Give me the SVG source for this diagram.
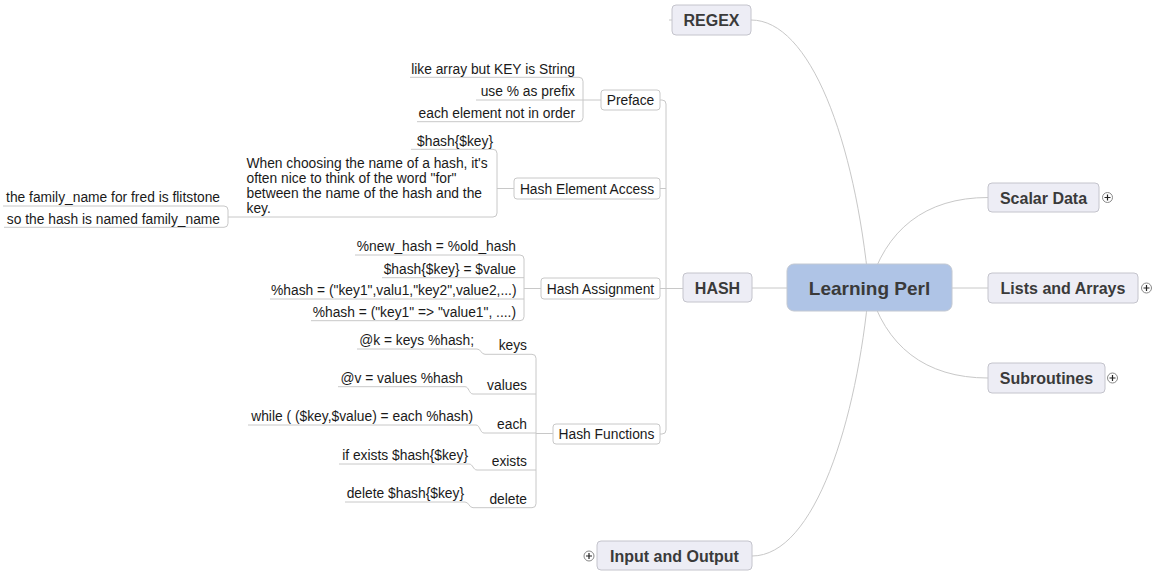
<svg xmlns="http://www.w3.org/2000/svg" width="1157" height="575" viewBox="0 0 1157 575">
<style>
.ln{fill:none;stroke:#c8c8c8;stroke-width:1}
.main rect{fill:#ededf5;stroke:#c4c4cc;stroke-width:1}
.main text{font-family:"Liberation Sans",Arial,sans-serif;font-size:16px;font-weight:bold;fill:#3a3a3a;text-anchor:middle}
.central rect{fill:#afc4e6;stroke:#c2c8d2;stroke-width:1}
.central text{font-family:"Liberation Sans",Arial,sans-serif;font-size:19px;font-weight:bold;fill:#3a3a3a;text-anchor:middle}
.sub rect{fill:#ffffff;stroke:#c8c8c8;stroke-width:1}
.sub text{font-family:"Liberation Sans",Arial,sans-serif;font-size:13.8px;fill:#1a1a1a;text-anchor:middle}
.leaf text{font-family:"Liberation Sans",Arial,sans-serif;font-size:13.8px;fill:#1a1a1a;text-anchor:end}
.plus circle{fill:#fff;stroke:#888;stroke-width:1}
.plus path{stroke:#222;stroke-width:1.2;fill:none}
</style>
<defs>
<g id="plusIcon" class="plus"><circle cx="0" cy="0" r="5"/><path d="M-3 0H3M0 -3V3"/></g>
</defs>
<g id="connectors">
<path class="ln" d="M751 20 C810 20 855 140 869 288"/>
<path class="ln" d="M988 197.5 C925 197.5 885 230 869 288"/>
<path class="ln" d="M952 288 H988"/>
<path class="ln" d="M988 378 C925 378 885 346 869 288"/>
<path class="ln" d="M752 556 C815 556 857 420 869 288"/>
<path class="ln" d="M752 288 H787"/>
<path class="ln" d="M669 20 H672"/>
<!-- HASH trunk -->
<path class="ln" d="M660 100 H662 Q666 100 666 104 V430 Q666 434 662 434 H660"/>
<path class="ln" d="M660 188.5 H666"/>
<path class="ln" d="M660 288.5 H683"/>
<!-- Preface bracket -->
<path class="ln" d="M410 77.3 H579 Q583 77.3 583 81.3 V117.7 Q583 121.7 579 121.7 H417"/>
<path class="ln" d="M476 100 H601"/>
<!-- HEA bracket -->
<path class="ln" d="M411 149.3 H493 Q497 149.3 497 153.3 V213 Q497 217 493 217 H228"/>
<path class="ln" d="M497 188.5 H514"/>
<path class="ln" d="M3 206 H224 Q228 206 228 210 V223.3 Q228 227.3 224 227.3 H4"/>
<!-- Hash Assignment bracket -->
<path class="ln" d="M355 255 H520 Q524 255 524 259 V316.7 Q524 320.7 520 320.7 H311"/>
<path class="ln" d="M382 277.7 H524"/>
<path class="ln" d="M270 299 H524"/>
<path class="ln" d="M524 288.5 H541"/>
<!-- Hash Functions bracket -->
<path class="ln" d="M357 349 H477 C481 349 481 354.3 485 354.3 H532 Q536 354.3 536 358.3 V503.7 Q536 507.7 532 507.7 H473 C469 507.7 469 502 465 502 H345"/>
<path class="ln" d="M338 386.7 H465 C469 386.7 469 394 473 394 H536"/>
<path class="ln" d="M248 425 H476 C480 425 480 433 484 433 H536"/>
<path class="ln" d="M339 464 H469 C473 464 473 470 477 470 H536"/>
<path class="ln" d="M536 433.5 H553"/>
</g>
<g id="node-central" class="central"><rect x="787" y="264" width="165" height="47" rx="7"/><text x="869.5" y="295">Learning Perl</text></g>
<g id="node-regex" class="main"><rect x="672" y="5" width="79" height="30" rx="4"/><text x="711.5" y="26">REGEX</text></g>
<g id="node-scalar" class="main"><rect x="988" y="183" width="111" height="29" rx="4"/><text x="1043.5" y="203.5">Scalar Data</text></g>
<g id="node-lists" class="main"><rect x="988" y="273" width="150" height="30" rx="4"/><text x="1063" y="294">Lists and Arrays</text></g>
<g id="node-subs" class="main"><rect x="988" y="363" width="117" height="30" rx="4"/><text x="1046.5" y="384">Subroutines</text></g>
<g id="node-io" class="main"><rect x="597" y="541" width="155" height="29" rx="4"/><text x="674.5" y="561.5">Input and Output</text></g>
<g id="node-hash" class="main"><rect x="683" y="273" width="69" height="29" rx="4"/><text x="717.5" y="293.5">HASH</text></g>
<g id="plus-icons">
<use href="#plusIcon" x="1107.5" y="197.5"/>
<use href="#plusIcon" x="1146.5" y="288"/>
<use href="#plusIcon" x="1112.5" y="378"/>
<use href="#plusIcon" x="589" y="556"/>
</g>
<g id="node-preface" class="sub"><rect x="601" y="90" width="59" height="20" rx="3"/><text x="630.5" y="105">Preface</text></g>
<g id="node-hea" class="sub"><rect x="514" y="178" width="146" height="21" rx="3"/><text x="587" y="193.5">Hash Element Access</text></g>
<g id="node-hassign" class="sub"><rect x="541" y="278" width="119" height="21" rx="3"/><text x="600.5" y="293.5">Hash Assignment</text></g>
<g id="node-hfunc" class="sub"><rect x="553" y="424" width="107" height="20" rx="3"/><text x="606.5" y="439">Hash Functions</text></g>
<g id="leaves-preface" class="leaf">
<text x="575" y="73.5">like array but KEY is String</text>
<text x="575" y="96">use % as prefix</text>
<text x="575" y="118">each element not in order</text>
</g>
<g id="leaves-hea" class="leaf">
<text x="493" y="145.5">$hash{$key}</text>
<text x="220" y="202">the family_name for fred is flitstone</text>
<text x="220" y="223.5">so the hash is named family_name</text>
</g>
<g id="leaf-hea-note" class="leaf">
<text style="text-anchor:start" x="246.5" y="168">When choosing the name of a hash, it's</text>
<text style="text-anchor:start" x="246.5" y="183">often nice to think of the word "for"</text>
<text style="text-anchor:start" x="246.5" y="198">between the name of the hash and the</text>
<text style="text-anchor:start" x="246.5" y="213">key.</text>
</g>
<g id="leaves-hassign" class="leaf">
<text x="516" y="251">%new_hash = %old_hash</text>
<text x="516" y="273.7">$hash{$key} = $value</text>
<text x="516.5" y="295">%hash = ("key1",valu1,"key2",value2,...)</text>
<text x="516" y="316.7">%hash = ("key1" =&gt; "value1", ....)</text>
</g>
<g id="leaves-hfunc" class="leaf">
<text x="527" y="350.3">keys</text>
<text x="474" y="345">@k = keys %hash;</text>
<text x="527" y="390">values</text>
<text x="463" y="382.7">@v = values %hash</text>
<text x="527" y="429">each</text>
<text x="473" y="421">while ( ($key,$value) = each %hash)</text>
<text x="527" y="466">exists</text>
<text x="468" y="460">if exists $hash{$key}</text>
<text x="527" y="503.7">delete</text>
<text x="464" y="498">delete $hash{$key}</text>
</g>
</svg>
